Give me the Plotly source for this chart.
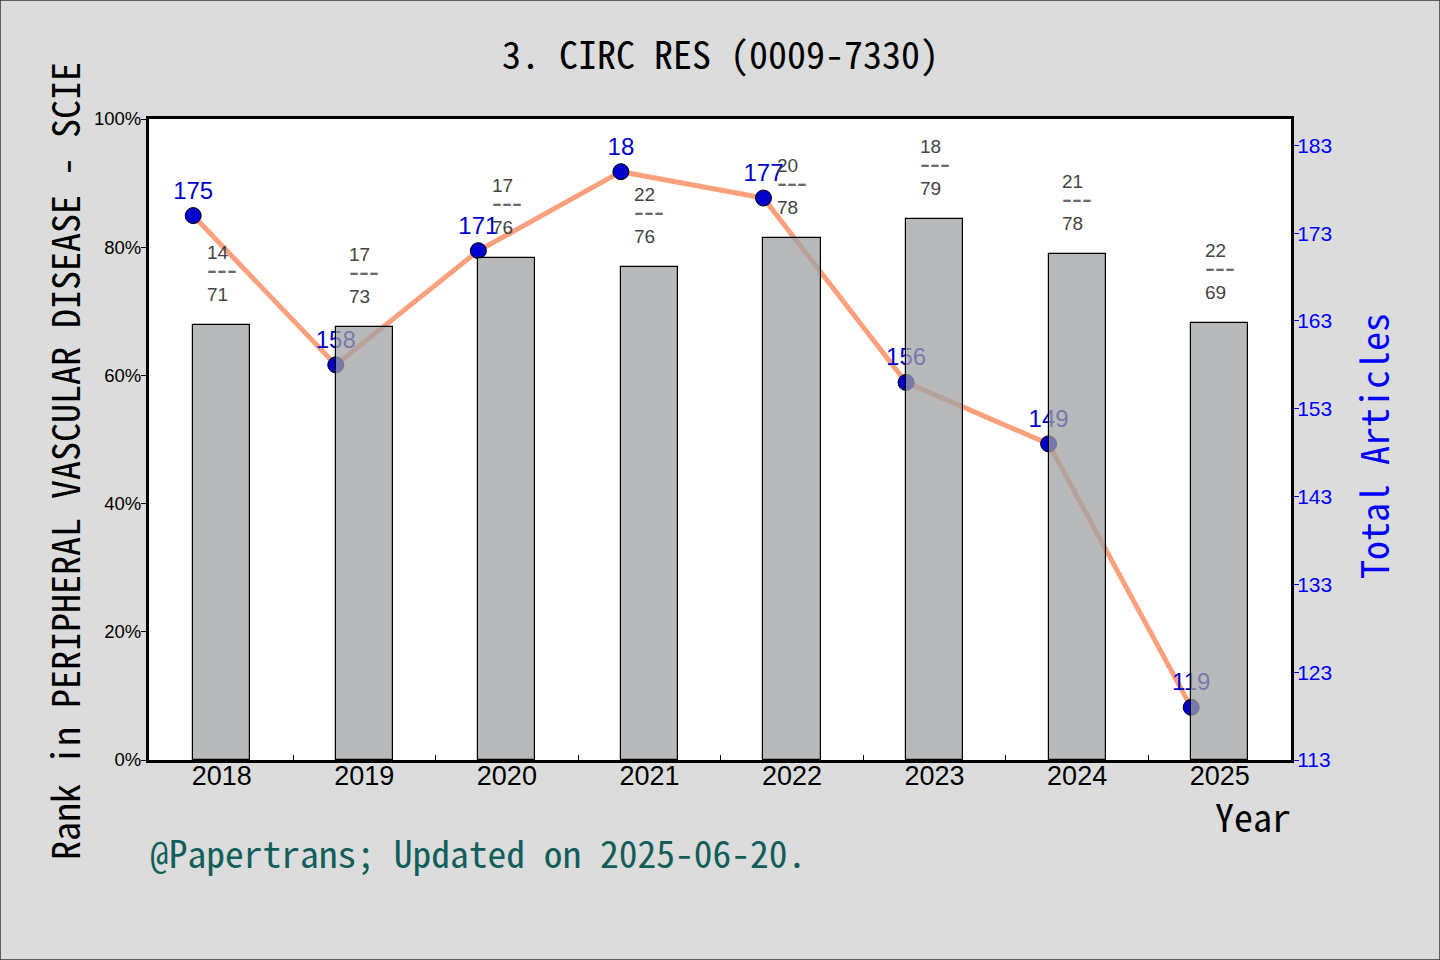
import plotly.graph_objects as go

years = ["2018", "2019", "2020", "2021", "2022", "2023", "2024", "2025"]
rank_pct = [67.9, 67.5, 78.3, 76.9, 81.4, 84.4, 78.9, 68.2]
rank_pos = [14, 17, 17, 22, 20, 18, 21, 22]
rank_total = [71, 73, 76, 76, 78, 79, 78, 69]
articles = [175, 158, 171, 180, 177, 156, 149, 119]
article_labels = ["175", "158", "171", "18", "177", "156", "149", "119"]
pct_ticks = [0, 20, 40, 60, 80, 100]
pct_tick_labels = ["0%", "20%", "40%", "60%", "80%", "100%"]
art_ticks = [113, 123, 133, 143, 153, 163, 173, 183]

MONO = "Noto Sans Mono CJK SC, DejaVu Sans Mono, monospace"
SANS = "Liberation Sans, Arial, sans-serif"

xs = list(range(len(years)))
bar_x = [x + 0.2 for x in xs]

fig = go.Figure()

# line (drawn below bars)
fig.add_trace(go.Scatter(
    x=xs, y=articles, yaxis="y", mode="lines+markers+text",
    text=article_labels, textposition="top center",
    textfont=dict(family=SANS, size=24, color="#0000CC"),
    line=dict(color="#FBA07C", width=5),
    marker=dict(size=16, color="#0000CC", line=dict(color="black", width=1)),
    showlegend=False, cliponaxis=False,
))

# bars on overlaying axis -> drawn above the line
fig.add_trace(go.Bar(
    x=bar_x, y=rank_pct, width=0.4, yaxis="y2",
    marker=dict(color="rgba(160,161,162,0.745)", line=dict(color="black", width=1.2)),
    showlegend=False,
))

annotations = []
for bx, p, r, t in zip(bar_x, rank_pct, rank_pos, rank_total):
    txt = ("<span style='font-size:19px'>%d</span><br>"
           "<span style='font-size:30px;color:#6a6a6a'>---</span><br>"
           "<span style='font-size:19px'>%d</span>") % (r, t)
    annotations.append(dict(
        x=bx, y=p, xref="x", yref="y2", text=txt, showarrow=False,
        xanchor="center", yanchor="bottom", align="left", yshift=18,
        font=dict(family=SANS, size=16, color="#444444"),
    ))

annotations += [
    dict(x=0.5, y=1.104, xref="paper", yref="paper", text="3. CIRC RES (0009-7330)",
         showarrow=False, xanchor="center", yanchor="middle",
         font=dict(family=MONO, size=38, color="black")),
    dict(x=-0.0745, y=0.4665, xref="paper", yref="paper",
         text="Rank in PERIPHERAL VASCULAR DISEASE - SCIE", textangle=-90,
         showarrow=False, xanchor="center", yanchor="middle",
         font=dict(family=MONO, size=38, color="black")),
    dict(x=1.0718, y=0.49, xref="paper", yref="paper", text="Total Articles",
         textangle=-90, showarrow=False, xanchor="center", yanchor="middle",
         font=dict(family=MONO, size=38, color="#0000FF")),
    dict(x=1.0018, y=-0.086, xref="paper", yref="paper", text="Year",
         showarrow=False, xanchor="right", yanchor="middle",
         font=dict(family=MONO, size=38, color="black")),
    dict(x=-0.001, y=-0.143, xref="paper", yref="paper",
         text="@Papertrans; Updated on 2025-06-20.",
         showarrow=False, xanchor="left", yanchor="middle",
         font=dict(family=MONO, size=37.5, color="#125E5A")),
]

fig.update_layout(
    width=1440, height=960,
    margin=dict(l=149, r=149, t=119, b=200, autoexpand=False),
    paper_bgcolor="#DCDCDC", plot_bgcolor="white",
    bargap=0,
    xaxis=dict(
        range=[-0.31, 7.70], tickvals=bar_x, ticktext=years, ticks="",
        tickfont=dict(family=SANS, size=27, color="black"),
        ticklabelstandoff=-10,
        showline=True, linecolor="black", linewidth=3, mirror=True,
        showgrid=False, zeroline=False,
        minor=dict(tickvals=[x + 0.7 for x in xs[:-1]], ticks="inside",
                   ticklen=5, tickcolor="black", tickwidth=1, showgrid=False),
    ),
    yaxis=dict(
        side="right", range=[113, 186], tickvals=art_ticks, ticks="outside",
        ticklen=5, tickcolor="#0000FF", tickwidth=1, ticklabelstandoff=-6,
        tickfont=dict(family=SANS, size=21, color="#0000FF"),
        showline=True, linecolor="black", linewidth=3,
        showgrid=False, zeroline=False,
    ),
    yaxis2=dict(
        side="left", overlaying="y", range=[0, 100], tickvals=pct_ticks,
        ticktext=pct_tick_labels, ticks="outside", ticklen=5, tickcolor="black",
        ticklabelstandoff=-4,
        tickfont=dict(family=SANS, size=18.5, color="black"),
        showline=True, linecolor="black", linewidth=3,
        showgrid=False, zeroline=False,
    ),
    annotations=annotations,
    shapes=[dict(type="rect", xref="paper", yref="paper", x0=-0.1305, x1=1.1305,
                 y0=-0.312, y1=1.1856, line=dict(color="#333333", width=1.5),
                 layer="below")],
)

fig.write_html("out.html")
